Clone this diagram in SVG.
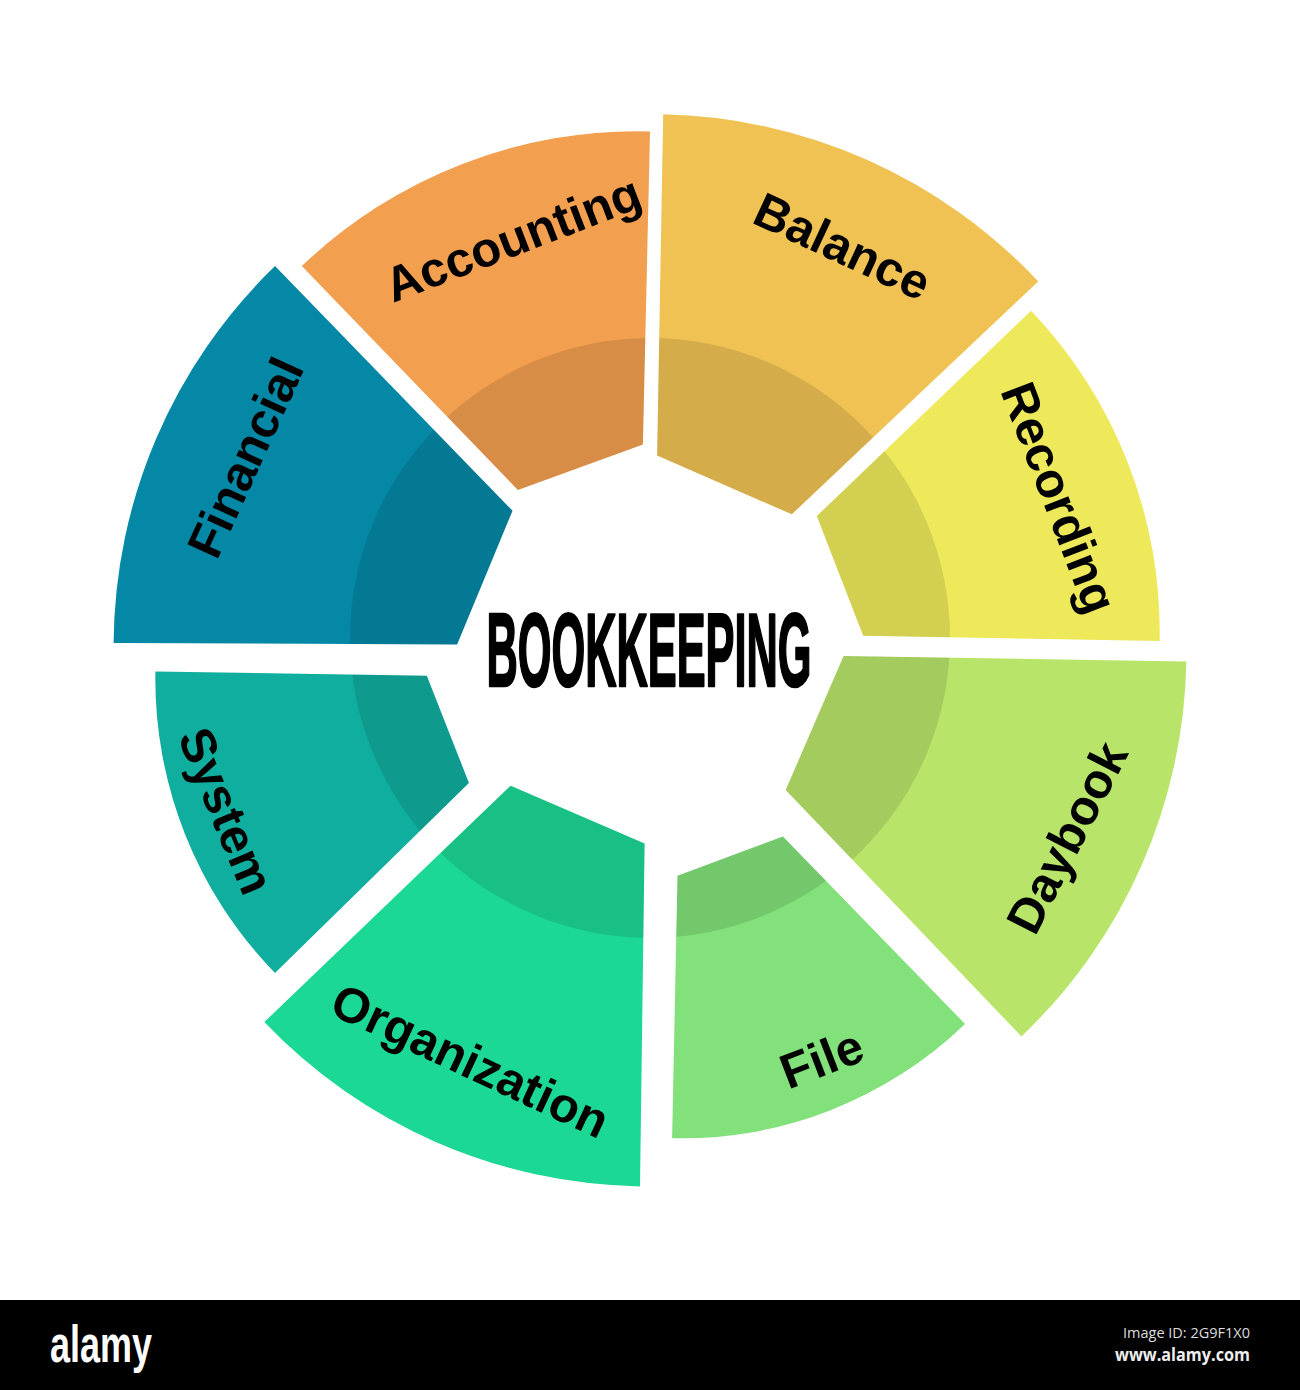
<svg xmlns="http://www.w3.org/2000/svg" width="1300" height="1390" viewBox="0 0 1300 1390">
<style>
.lbl{font-family:"Liberation Sans",Arial,sans-serif;font-weight:bold;font-size:49px;fill:#000;text-anchor:middle}
.band{fill:#000;fill-opacity:0.11}
.title{font-family:"Liberation Sans",Arial,sans-serif;font-weight:bold;font-size:104px;fill:#000;stroke:#000;stroke-width:2.5;stroke-linejoin:round;text-anchor:middle}
</style>
<defs>
<path id="p-bal" d="M 657.1 455.4 L 663.2 114.3 A 530 530 0 0 1 1038.2 281.4 L 791.8 514.3 Z"/>
<path id="p-rec" d="M 816.8 516.1 L 1031.1 310.7 A 465 465 0 0 1 1159.6 641.1 L 863.2 635.7 Z"/>
<path id="p-day" d="M 843.6 656.1 L 1186.4 661.4 A 531 531 0 0 1 1021.4 1036.4 L 785.7 790 Z"/>
<path id="p-fil" d="M 782.9 836.4 L 965 1023.9 A 408 408 0 0 1 672.1 1138.2 L 677.5 875.7 Z"/>
<path id="p-org" d="M 644.6 843.6 L 640 1186.4 A 531 531 0 0 1 264.3 1022.1 L 510.7 785.7 Z"/>
<path id="p-sys" d="M 468.9 782.9 L 275 972.9 A 421 421 0 0 1 155.4 671.4 L 426.8 675.7 Z"/>
<path id="p-fin" d="M 457.1 644.6 L 113.6 642.9 A 529 529 0 0 1 275 266.1 L 512.5 510.7 Z"/>
<path id="p-acc" d="M 517.9 490 L 301.8 266.1 A 485 485 0 0 1 650 131.4 L 642.9 444.6 Z"/>
<clipPath id="c-bal"><use href="#p-bal"/></clipPath>
<clipPath id="c-rec"><use href="#p-rec"/></clipPath>
<clipPath id="c-day"><use href="#p-day"/></clipPath>
<clipPath id="c-fil"><use href="#p-fil"/></clipPath>
<clipPath id="c-org"><use href="#p-org"/></clipPath>
<clipPath id="c-sys"><use href="#p-sys"/></clipPath>
<clipPath id="c-fin"><use href="#p-fin"/></clipPath>
<clipPath id="c-acc"><use href="#p-acc"/></clipPath>
</defs>
<rect x="0" y="0" width="1300" height="1390" fill="#fff"/>
<g id="connectors"/>
<g id="node-accounting">
<use href="#p-acc" fill="#F29F4F"/>
<circle class="band" cx="650" cy="638" r="300" clip-path="url(#c-acc)"/>
<text class="lbl" transform="translate(514,242) rotate(-21)" x="0" y="13.5">Accounting</text>
</g>
<g id="node-balance">
<use href="#p-bal" fill="#F0C254"/>
<circle class="band" cx="650" cy="638" r="300" clip-path="url(#c-bal)"/>
<text class="lbl" transform="translate(841,249.5) rotate(25)" x="0" y="13.5">Balance</text>
</g>
<g id="node-recording">
<use href="#p-rec" fill="#EDE95A"/>
<circle class="band" cx="650" cy="638" r="300" clip-path="url(#c-rec)"/>
<text class="lbl" transform="translate(1056,499) rotate(69)" x="0" y="13.5">Recording</text>
</g>
<g id="node-daybook">
<use href="#p-day" fill="#B9E46A"/>
<circle class="band" cx="650" cy="638" r="300" clip-path="url(#c-day)"/>
<text class="lbl" transform="translate(1070,839) rotate(-63)" x="0" y="13.5">Daybook</text>
</g>
<g id="node-file">
<use href="#p-fil" fill="#82E17A"/>
<circle class="band" cx="650" cy="638" r="300" clip-path="url(#c-fil)"/>
<text class="lbl" transform="translate(822.9,1062) rotate(-21)" x="0" y="13.5">File</text>
</g>
<g id="node-organization">
<use href="#p-org" fill="#1BD994"/>
<circle class="band" cx="650" cy="638" r="300" clip-path="url(#c-org)"/>
<text class="lbl" transform="translate(469,1064) rotate(25)" x="0" y="13.5">Organization</text>
</g>
<g id="node-system">
<use href="#p-sys" fill="#10AE9E"/>
<circle class="band" cx="650" cy="638" r="300" clip-path="url(#c-sys)"/>
<text class="lbl" transform="translate(223,812) rotate(67.5)" x="0" y="13.5">System</text>
</g>
<g id="node-financial">
<use href="#p-fin" fill="#0588A6"/>
<circle class="band" cx="650" cy="638" r="300" clip-path="url(#c-fin)"/>
<text class="lbl" transform="translate(248.6,459) rotate(-65.5)" x="0" y="13.5">Financial</text>
</g>
<g id="node-center">
<text class="title" x="649" y="686" textLength="325" lengthAdjust="spacingAndGlyphs">BOOKKEEPING</text>
</g>
<g id="footer">
<rect x="0" y="1300" width="1300" height="90" fill="#000"/>
<text x="50" y="1362" font-family="'Liberation Sans',Arial,sans-serif" font-weight="bold" font-size="52" fill="#fff" textLength="102" lengthAdjust="spacingAndGlyphs">alamy</text>
<text x="1250" y="1338" font-family="'Open Sans','Noto Sans',sans-serif" font-size="15" fill="#ddd" text-anchor="end" textLength="127" lengthAdjust="spacingAndGlyphs">Image ID: 2G9F1X0</text>
<text x="1250" y="1361" font-family="'Open Sans','Noto Sans',sans-serif" font-weight="bold" font-size="17" fill="#eee" text-anchor="end" textLength="135" lengthAdjust="spacingAndGlyphs">www.alamy.com</text>
</g>
</svg>
